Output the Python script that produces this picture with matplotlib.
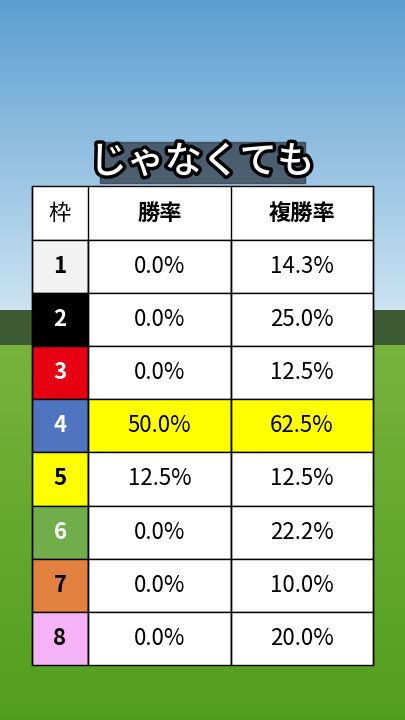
import numpy as np
import matplotlib
matplotlib.use("Agg")
import matplotlib.pyplot as plt
import matplotlib.patheffects as pe
from matplotlib.patches import Rectangle

plt.rcParams['font.family'] = ['Noto Sans CJK JP', 'DejaVu Sans']

title = "じゃなくても"
headers = ["枠", "勝率", "複勝率"]
waku = ["1", "2", "3", "4", "5", "6", "7", "8"]
win_rate = [0.0, 0.0, 0.0, 50.0, 12.5, 0.0, 0.0, 0.0]
place_rate = [14.3, 25.0, 12.5, 62.5, 12.5, 22.2, 10.0, 20.0]
waku_colors = ["#f2f2f2", "#000000", "#e60012", "#4f74c0", "#ffff00",
               "#72ad4c", "#e2803f", "#f5b3f5"]
waku_text = ["black", "white", "white", "white", "black", "white", "black", "black"]
highlight = [False, False, False, True, False, False, False, False]

fig = plt.figure(figsize=(4.05, 7.2), dpi=100)
ax = fig.add_axes([0, 0, 1, 1])
ax.set_xlim(0, 405)
ax.set_ylim(720, 0)
ax.axis("off")

# background: sky, treeline, grass
h = 720
bg = np.zeros((h, 1, 3))
for y in range(h):
    if y < 310:
        t = y / 310
        bg[y, 0] = (1 - t) * np.array([0.36, 0.62, 0.82]) + t * np.array([0.80, 0.89, 0.95])
    elif y < 345:
        bg[y, 0] = [0.24, 0.36, 0.20]
    else:
        t = (y - 345) / (h - 345)
        bg[y, 0] = (1 - t) * np.array([0.47, 0.70, 0.24]) + t * np.array([0.32, 0.62, 0.12])
ax.imshow(bg, extent=(0, 405, 720, 0), aspect="auto", zorder=0)

# title
ax.add_patch(Rectangle((100, 142), 205, 41, color="#2a3440", alpha=0.7, zorder=1))
ax.text(202, 162, title, fontsize=27, color="white", ha="center", va="center",
        fontweight="medium", zorder=2,
        path_effects=[pe.withStroke(linewidth=5, foreground="black")])

# table
x_edges = [32, 88, 231, 373]
y0, hh, rh = 186, 54, 53.1
ax.add_patch(Rectangle((32, y0), 341, hh, facecolor="white", edgecolor="black", lw=1, zorder=3))
for j, txt in enumerate(headers):
    ax.text((x_edges[j] + x_edges[j + 1]) / 2, y0 + hh / 2, txt, fontsize=16,
            ha="center", va="center", zorder=5,
            fontweight="normal" if j == 0 else "bold")
for i in range(len(waku)):
    top = y0 + hh + i * rh
    for j in range(3):
        if j == 0:
            fc = waku_colors[i]
        else:
            fc = "#ffff00" if highlight[i] else "white"
        ax.add_patch(Rectangle((x_edges[j], top), x_edges[j + 1] - x_edges[j], rh,
                               facecolor=fc, edgecolor="black", lw=1, zorder=3))
    cy = top + rh / 2
    ax.text(60, cy, waku[i], fontsize=16, fontweight="bold", color=waku_text[i],
            ha="center", va="center", zorder=5)
    ax.text(159.5, cy, f"{win_rate[i]:.1f}%", fontsize=16, ha="center", va="center", zorder=5)
    ax.text(302, cy, f"{place_rate[i]:.1f}%", fontsize=16, ha="center", va="center", zorder=5)
for j in range(4):
    ax.plot([x_edges[j]] * 2, [y0, y0 + hh + 8 * rh], color="black", lw=1, zorder=4)

fig.savefig("out.png", dpi=100)
